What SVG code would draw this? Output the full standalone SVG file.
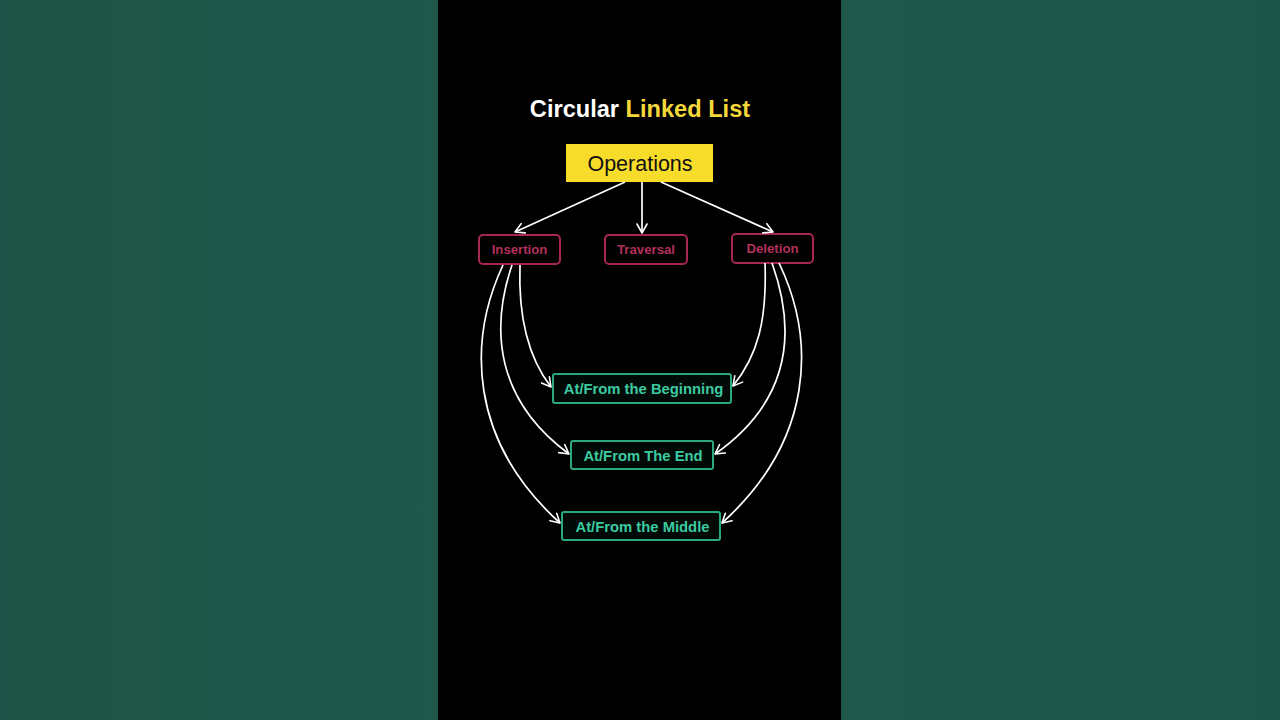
<svg xmlns="http://www.w3.org/2000/svg" width="1280" height="720" viewBox="0 0 1280 720">
<defs>
<linearGradient id="bgL" x1="0" y1="0" x2="1" y2="0">
<stop offset="0" stop-color="#1d5447"/><stop offset="0.5" stop-color="#1f5a4c"/><stop offset="1" stop-color="#1d5548"/>
</linearGradient>
<marker id="arr" viewBox="0 0 12 12" refX="10" refY="6" markerWidth="12" markerHeight="12" markerUnits="userSpaceOnUse" orient="auto">
<path d="M1,1 L10,6 L1,11" fill="none" stroke="#ffffff" stroke-width="1.6" stroke-linecap="round" stroke-linejoin="round"/>
</marker>
<style>
.cat rect{fill:#000;stroke:#a6284f;stroke-width:2}
.cat text{fill:#b3305a;font-family:"Liberation Sans",Arial,sans-serif;font-weight:bold;font-size:13.2px;text-anchor:middle}
.pos rect{fill:#020a07;stroke:#2aa882;stroke-width:2}
.pos text{fill:#3ccaa1;font-family:"Liberation Sans",Arial,sans-serif;font-weight:bold;font-size:14.8px;text-anchor:middle}
#connectors path{fill:none;stroke:#ffffff;stroke-width:1.7;marker-end:url(#arr)}
</style>
</defs>
<rect x="0" y="0" width="1280" height="720" fill="url(#bgL)"/>
<rect x="438" y="0" width="403" height="720" fill="#000"/>
<text x="640" y="117" font-family="'Liberation Sans',Arial,sans-serif" font-weight="bold" font-size="23.6" text-anchor="middle"><tspan fill="#ffffff">Circular </tspan><tspan fill="#f4d83a">Linked List</tspan></text>
<g id="operations">
<rect x="566" y="144" width="147" height="38" fill="#f8dc2a"/>
<text x="640" y="171" font-family="'Liberation Sans',Arial,sans-serif" font-size="21.5" fill="#111" text-anchor="middle">Operations</text>
</g>
<g id="insertion" class="cat"><rect x="479" y="235" width="81" height="29" rx="4"/><text x="519.5" y="254">Insertion</text></g>
<g id="traversal" class="cat"><rect x="605" y="235" width="82" height="29" rx="4"/><text x="646" y="254">Traversal</text></g>
<g id="deletion" class="cat"><rect x="732" y="234" width="81" height="29" rx="4"/><text x="772.5" y="253">Deletion</text></g>
<g id="beginning" class="pos"><rect x="553" y="374" width="178" height="29" rx="2"/><text x="643.5" y="394">At/From the Beginning</text></g>
<g id="end" class="pos"><rect x="571" y="441" width="142" height="28" rx="2"/><text x="643" y="460.5">At/From The End</text></g>
<g id="middle" class="pos"><rect x="562" y="512" width="158" height="28" rx="2"/><text x="642.5" y="531.5">At/From the Middle</text></g>
<g id="connectors">
<path d="M625,182 L515,232"/>
<path d="M642,182 L642,233"/>
<path d="M661,182 L773,232"/>
<path d="M520,265 C518,320 530,360 551,387"/>
<path d="M512,265 C490,330 496,400 569,454"/>
<path d="M503,265 C468,340 468,440 560,523"/>
<path d="M765,263 C767,320 758,355 733,386"/>
<path d="M772,263 C796,330 792,400 715,454"/>
<path d="M779,263 C816,340 814,440 722,523"/>
</g>
</svg>
